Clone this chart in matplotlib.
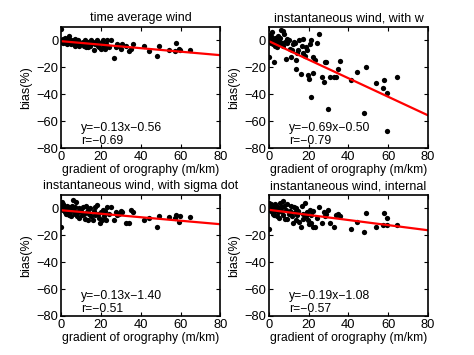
import numpy as np
import matplotlib.pyplot as plt

plt.rcParams['font.family'] = ['Liberation Sans', 'DejaVu Sans']

# gradient of orography (m/km), shared by all stations
x = [0, 0.3, 0.5, 1, 1, 1.5, 2, 2, 2.5, 3, 3, 3.5, 4, 4, 4.5, 5, 5, 5.5, 6, 6.5,
     7, 7, 7.5, 8, 8.5, 9, 9, 10, 10.5, 11, 11.5, 12, 12.5, 13, 13.5, 13.5, 14, 14.5,
     15, 16, 16.5, 17, 17, 18, 18.5, 19, 19.7, 20, 20.5, 21, 21.4, 22, 22.3, 23, 24,
     25, 26.7, 27.6, 28, 29, 30, 30.6, 32.6, 34, 35, 36, 41.5, 44.3, 48, 49, 54,
     57.4, 57.7, 59.4, 59.6, 64.6]

bias_avg = [8.5, 0, -1, 1, -2, 0, -1, 2, -2, 0, -3, 1, -1, 3, -2, 0, -3, -1, -2, 0,
            -4, 1, -2, -3, 0, -1, -4, -2, -3, -1, -4, 0, -5, -2, -5, -1, -3, -4,
            0, -2, -7, -3, -1, 0, -4, -5, -2, -6, -1, 0, -4, -6, -3, 0, -5,
            0, -13, -5, -3, -4.5, -6, -3, -4, -8, -6, -3, -4, -8, -11.5, -4.5, -7,
            -8, -2, -6.5, -7, -7]

bias_w = [-12.5, 4, 1, 3, -2, 6, 0, -3, -15.8, 2, -4, 1, -1, -5, 3, 0, -3, 2, 8, -2,
          7, -4, 5, -1, -14, -2, 1, 0.5, -6, -12, -7, -3, -1, -2, -14.5, -21, -9, -7,
          0.5, -25, -4.5, 1, -9.5, -11.5, -5, -7, -25.7, -29, -3, 0, -42, -12, -24, -14.5, -2,
          5, -27.4, -30.7, -15.7, -16, -51, -27.4, -27.4, -27, -21, -15, -29.4, -23.7, -54, -20, -32,
          -35, -29.4, -39.4, -67.6, -27.4]

bias_sig = [-14, 5, 2, 3, -1, 0, -3, 1, -4, 2, -2, 0, -5, 1, -3, -1, -6, 2, 6, -2,
            -4, 1, 5, -6, -3, -7.4, 0, -2, -5, 1, -4, -8, 2, -3, -1, -9, -4, 0,
            -6, -8.6, -2, -5, 1, 2.5, -4, -7, -11, -3, -8.6, -1, -6, -2, -9, 1, -4,
            1, -8.6, -3, -5, -4, -2, -3, -10.6, -11, -1, -3, -8.6, -7.4, -14, -5.4, -6.7,
            -7.4, -5, -10.4, -6, -6.2]

bias_int = [-15.3, 4, 1, 3, -2, 2, -4, 0, -5, 3, -1, 2, -6, 1, -3, 0, -7, 4, -2, 1,
            5.7, -5, 2, -8, -1, -8, 3, -4, -2, 2, -6, -11, 1, -3, -9, 0, -5, -2,
            -10, -13.6, 2, -4, -8, 4.2, -6, -3, -9, -12, -1, -11, -5, -13.6, -2, -13.6, -7,
            0.7, -11, -2.5, -6, -4, -1.2, -11, -13.6, -5, -4, -6, -15, -10, -17.3, -3.2, -13.6,
            -12.4, -3.2, -7.4, -12.4, -12.4]

titles = ['time average wind', 'instantaneous wind, with w',
          'instantaneous wind, with sigma dot', 'instantaneous wind, internal']
slopes = [-0.13, -0.69, -0.13, -0.19]
offsets = [-0.56, -0.50, -1.40, -1.08]
rvals = [-0.69, -0.79, -0.51, -0.57]
series = [bias_avg, bias_w, bias_sig, bias_int]

fig = plt.figure(figsize=(4.74, 3.55), dpi=100)
lefts = [0.129, 0.567, 0.129, 0.567]
bottoms = [0.583, 0.583, 0.110, 0.110]

fs = 9
for i in range(4):
    ax = fig.add_axes([lefts[i], bottoms[i], 0.336, 0.341])
    ax.plot(x, series[i], 'o', color='k', ms=3.8, mew=0)
    xl = np.array([0, 80])
    ax.plot(xl, slopes[i] * xl + offsets[i], color='r', lw=1.6)
    ax.set_xlim(0, 80)
    ax.set_ylim(-80, 10)
    ax.set_xticks([0, 20, 40, 60, 80])
    ax.set_yticks([-80, -60, -40, -20, 0])
    ax.tick_params(direction='in', top=True, right=True, labelsize=9.3, length=3, width=0.8, pad=2)
    for s in ax.spines.values():
        s.set_linewidth(1.2)
    ax.set_title(titles[i], fontsize=fs, pad=4)
    ax.set_xlabel('gradient of orography (m/km)', fontsize=8.7, labelpad=1)
    ax.set_ylabel('bias(%)', fontsize=fs, labelpad=3)
    eq = 'y=%.2fx%.2f' % (slopes[i], offsets[i])
    ax.text(10, -65, eq.replace('-', '\u2212'), fontsize=8.7, va='center')
    ax.text(10, -75, ('r=%.2f' % rvals[i]).replace('-', '\u2212'), fontsize=8.7, va='center')

fig.savefig('out.png', dpi=100)
